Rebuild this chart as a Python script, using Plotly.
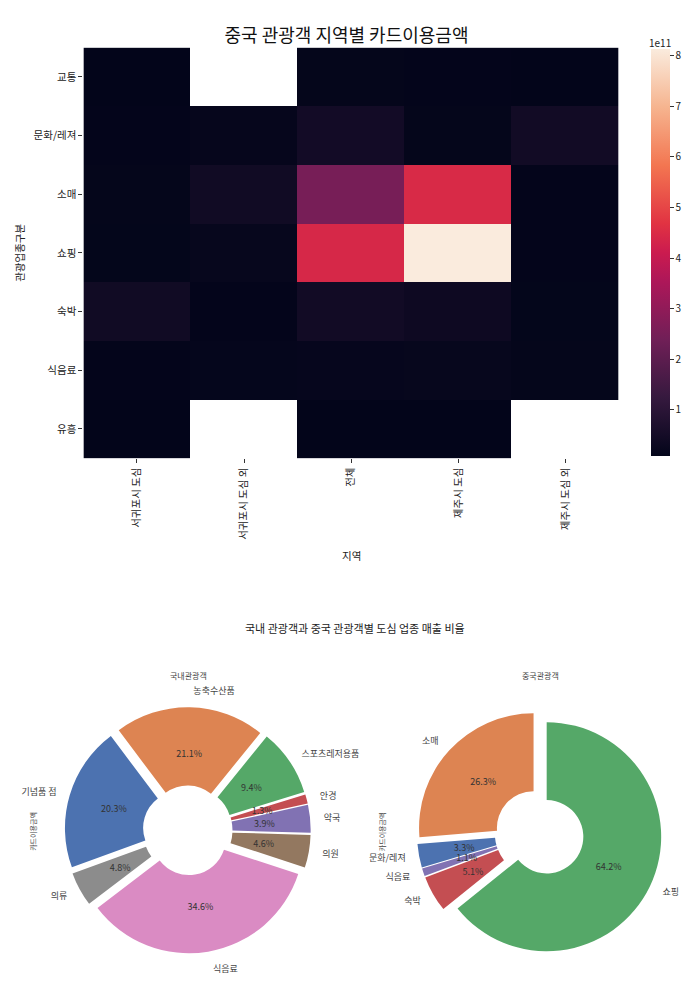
import math
import plotly.graph_objects as go

# ---------------- data ----------------
regions = ["서귀포시 도심", "서귀포시 도심 외", "전체", "제주시 도심", "제주시 도심 외"]
industries = ["교통", "문화/레져", "소매", "쇼핑", "숙박", "식음료", "유흥"]

# 카드이용금액 (unit: 1e11), one list per 업종, in region order (None = no data)
amt_traffic = [0.09, None, 0.12, 0.10, 0.09]
amt_culture = [0.10, 0.14, 0.45, 0.12, 0.42]
amt_retail = [0.12, 0.40, 2.50, 4.45, 0.10]
amt_shopping = [0.11, 0.18, 4.40, 8.12, 0.10]
amt_lodging = [0.40, 0.10, 0.42, 0.33, 0.11]
amt_food = [0.10, 0.13, 0.16, 0.18, 0.12]
amt_leisure = [0.08, None, 0.08, 0.08, None]

cbar_ticks = [1, 2, 3, 4, 5, 6, 7, 8]

dom_labels = ["기념품 점", "농축수산품", "스포츠레저용품", "안경", "약국", "의원", "식음료", "의류"]
dom_pct = [20.3, 21.1, 9.4, 1.3, 3.9, 4.6, 34.6, 4.8]
dom_colors = ["#4c72b0", "#dd8452", "#55a868", "#c44e52", "#8172b3", "#937860", "#da8bc3", "#8c8c8c"]

cn_labels = ["쇼핑", "숙박", "식음료", "문화/레져", "소매"]
cn_pct = [64.2, 5.1, 1.1, 3.3, 26.3]
cn_colors = ["#55a868", "#c44e52", "#8172b3", "#4c72b0", "#dd8452"]

# ---------------- styles ----------------
FONT = "Noto Sans CJK KR"
W, H = 700, 1000
rocket = [
    [0.0, "#03051a"], [1 / 7, "#35193e"], [2 / 7, "#701f57"], [3 / 7, "#ad1759"],
    [0.5, "#cb1b4f"], [4 / 7, "#e13342"], [5 / 7, "#f37651"], [6 / 7, "#f6b48f"], [1.0, "#faebdd"],
]

z = [amt_traffic, amt_culture, amt_retail, amt_shopping, amt_lodging, amt_food, amt_leisure]

fig = go.Figure()

fig.add_trace(go.Heatmap(
    z=z, x=regions, y=industries,
    colorscale=rocket, hoverongaps=False,
    colorbar=dict(
        x=653 / W, xanchor="left", xpad=0,
        y=1 - 255 / H, yanchor="middle", len=410 / H, lenmode="fraction", ypad=0,
        thickness=19, outlinewidth=0,
        ticks="outside", ticklen=4, tickcolor="#333",
        tickvals=cbar_ticks, ticktext=[str(t) for t in cbar_ticks],
        tickfont=dict(size=10, color="#222", family=FONT),
    ),
))

# ---------------- donut pies ----------------
HOLE = 0.32
PULL = 0.07
PCT_DIST = 0.6     # percentage text distance (fraction of radius)
LABEL_SCALE = 1.09  # outer-label ring scale


def domain_for(cx, cy, r, k):
    half = r * (k + PULL)
    return dict(x=[(cx - half) / W, (cx + half) / W], y=[1 - (cy + half) / H, 1 - (cy - half) / H])


def add_donut(labels, vals, cols, cx, cy, r, rot):
    n = len(vals)
    total = sum(vals)
    common = dict(labels=labels, values=vals, sort=False, direction="clockwise", rotation=rot,
                  showlegend=False, hoverinfo="skip", hole=HOLE)
    # coloured wedges
    fig.add_trace(go.Pie(
        domain=domain_for(cx, cy, r, 1.0), pull=[PULL] * n,
        marker=dict(colors=cols, line=dict(width=0)),
        textinfo="none", **common,
    ))
    # percentage texts, one transparent ring per wedge so the text sits at PCT_DIST
    for i, v in enumerate(vals):
        half_ang = math.pi * v / total
        rho = min(1 / (1 + 1 / math.sin(half_ang)), (1 - HOLE) / 2)
        k = PCT_DIST / (1 - rho)
        tmpl = ["" for _ in vals]
        tmpl[i] = "%{percent:.1%}"
        fig.add_trace(go.Pie(
            domain=domain_for(cx, cy, r, k), pull=[PULL / k] * n,
            marker=dict(colors=["rgba(0,0,0,0)"] * n, line=dict(width=0)),
            texttemplate=tmpl, textposition="inside", insidetextorientation="horizontal",
            textfont=dict(size=9, color="#333", family=FONT), **common,
        ))
    # outer category labels
    fig.add_trace(go.Pie(
        domain=domain_for(cx, cy, r, LABEL_SCALE), pull=[PULL / LABEL_SCALE] * n,
        marker=dict(colors=["rgba(0,0,0,0)"] * n, line=dict(width=0)),
        texttemplate="%{label}", textposition="outside",
        textfont=dict(size=8, color="#444", family=FONT), **common,
    ))


add_donut(dom_labels, dom_pct, dom_colors, 179.5, 837, 117.5, 250)
add_donut(cn_labels, cn_pct, cn_colors, 539, 840, 117, 0)

ann = [
    dict(text="1e11", x=662 / W, y=1 - 43 / H, font=dict(size=10)),
    dict(text="지역", x=346.5 / W, y=1 - 560 / H, font=dict(size=10.5)),
    dict(text="관광업종구분", x=8 / W, y=1 - 255 / H, textangle=-90, font=dict(size=10.5)),
    dict(text="국내 관광객과 중국 관광객별 도심 업종 매출 비율", x=350 / W, y=1 - 633 / H, font=dict(size=11)),
    dict(text="국내관광객", x=180 / W, y=1 - 681 / H, font=dict(size=8, color="#444")),
    dict(text="중국관광객", x=540 / W, y=1 - 681 / H, font=dict(size=8, color="#444")),
    dict(text="카드이용금액", x=22 / W, y=1 - 838 / H, textangle=-90, font=dict(size=7, color="#444")),
    dict(text="카드이용금액", x=378 / W, y=1 - 838 / H, textangle=-90, font=dict(size=7, color="#444")),
]
annotations = []
for a in ann:
    f = dict(family=FONT, color="#222")
    f.update(a.pop("font"))
    annotations.append(dict(xref="paper", yref="paper", showarrow=False,
                            xanchor="center", yanchor="middle", font=f, **a))

fig.update_layout(
    width=W, height=H,
    margin=dict(l=0, r=0, t=0, b=0),
    paper_bgcolor="white", plot_bgcolor="white",
    font=dict(family=FONT, color="#222"),
    title=dict(text="중국 관광객 지역별 카드이용금액", x=346.5 / W, xanchor="center",
               y=1 - 36 / H, yanchor="middle", font=dict(size=18, color="#111", family=FONT)),
    xaxis=dict(domain=[73 / W, 620 / W], anchor="y", tickangle=-90, ticks="outside", ticklen=4,
               tickcolor="#333", showgrid=False, zeroline=False, showline=False,
               tickfont=dict(size=10.5, color="#222"), fixedrange=True),
    yaxis=dict(domain=[1 - 462 / H, 1 - 48 / H], anchor="x", autorange="reversed",
               ticks="outside", ticklen=4, tickcolor="#333", showgrid=False, zeroline=False,
               showline=False, tickfont=dict(size=10.5, color="#222"), fixedrange=True),
    uniformtext=dict(minsize=9, mode="show"),
    annotations=annotations,
)

fig.write_html("out.html", config={"displayModeBar": False},
               post_script="document.body.style.margin='0px';")
